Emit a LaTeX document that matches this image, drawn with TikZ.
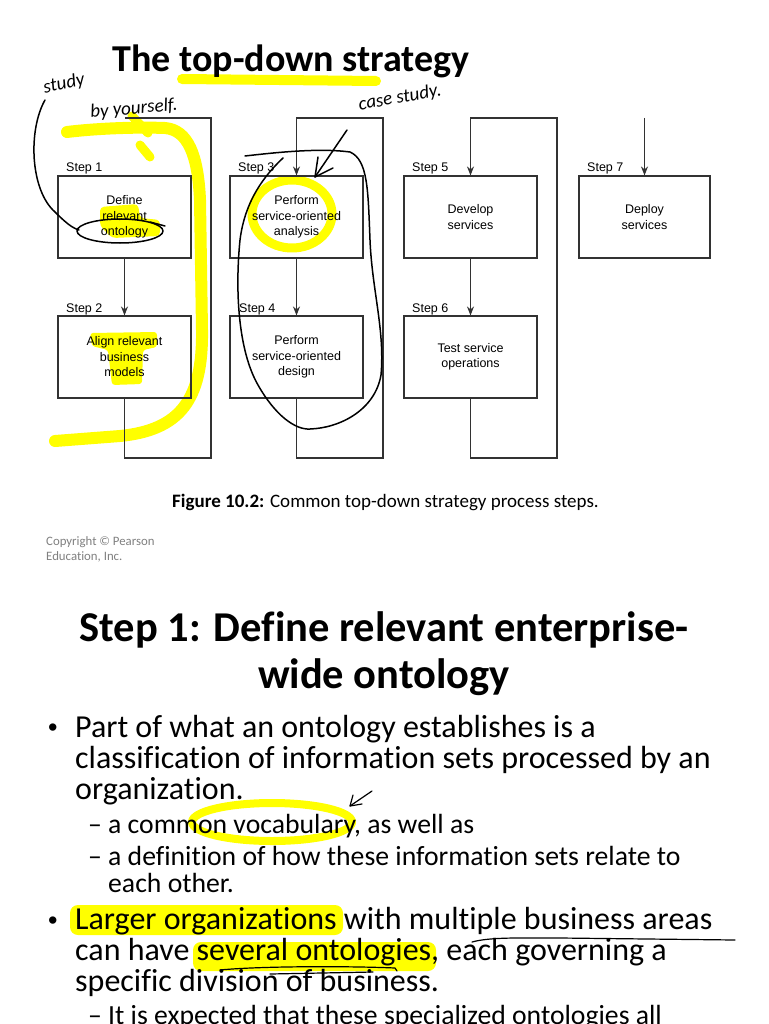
\documentclass[tikz,border=0pt]{standalone}
\usepackage{fontspec}
\setmainfont{Carlito}[Ligatures=NoCommon]
\newfontfamily\arial{Liberation Sans}
\usetikzlibrary{arrows.meta}
\definecolor{hl}{RGB}{255,255,0}
\definecolor{dline}{RGB}{50,50,50}
\definecolor{cgray}{RGB}{128,128,128}
\begin{document}
\begin{tikzpicture}[x=1pt,y=-1pt,
  stepbox/.style={draw=dline, line width=1.1pt, minimum width=133pt, minimum height=82pt, inner sep=0pt, align=center, font=\arial\fontsize{12.5}{15.5}\selectfont},
  steplbl/.style={anchor=base west, inner sep=0pt, font=\arial\fontsize{12.5}{15}\selectfont},
  conn/.style={draw=dline, line width=1.1pt},
  arr/.style={conn, -{Stealth[length=9pt,width=7pt]}},
  hlstroke/.style={draw=hl, line width=12pt, line cap=round, line join=round},
  ink/.style={draw=black, line width=1.5pt, line cap=round, line join=round},
  body/.style={anchor=base west, inner sep=0pt, font=\fontsize{32}{32}\selectfont},
  bul/.style={anchor=base west, inner sep=0pt, font=\arial\fontsize{27}{27}\selectfont},
  subtext/.style={anchor=base west, inner sep=0pt, font=\fontsize{27.7}{28}\selectfont},
  hand/.style={inner sep=0pt, font=\itshape\fontsize{19}{19}\selectfont}
]
\useasboundingbox (0,0) rectangle (768,1024);
\fill[white] (0,0) rectangle (768,1024);

% ---------- highlighter strokes (under everything) ----------
\draw[hlstroke, line width=10pt] (182,79) -- (376,81);
\draw[hlstroke] (67,132) .. controls (100,128) and (140,127) .. (165,128) .. controls (188,130) and (198,155) .. (200,200) -- (202,330) .. controls (203,400) and (180,430) .. (120,436) -- (55,441);
\draw[hlstroke, line width=9pt] (132,116) -- (148,133);
\draw[hlstroke, line width=9pt] (140,145) -- (150,157);
\fill[hl, rounded corners=4pt] (100,207) -- (138,204) -- (140,218) -- (160,220) -- (160,236) -- (112,238) -- (100,226) -- cycle;
\fill[hl, rounded corners=3pt] (90,333) -- (157,332) -- (157,347) -- (143,350) -- (142,384) -- (112,385) -- (108,350) -- (92,346) -- cycle;
\draw[hlstroke, line width=9pt] (292,214) ellipse [x radius=40, y radius=34];
\draw[hlstroke, line width=8pt] (272,822) ellipse [x radius=80, y radius=19];
\fill[hl, rounded corners=8pt] (70,905) rectangle (343,935);
\fill[hl, rounded corners=8pt] (193,942) rectangle (436,971);

% ---------- title ----------
\node[anchor=base, inner sep=0pt, font=\bfseries\fontsize{38}{38}\selectfont] (title) at (291,72) {The top-down strategy};

% ---------- diagram ----------
\node[stepbox] (s1) at (124.5,217) {Define\\relevant\\ontology};
\node[stepbox] (s3) at (296.5,217) {Perform\\service-oriented\\analysis};
\node[stepbox] (s5) at (470.5,217) {Develop\\services};
\node[stepbox, minimum width=131pt] (s7) at (644.5,217) {Deploy\\services};
\node[stepbox] (s2) at (124.5,357) {Align relevant\\business\\models};
\node[stepbox] (s4) at (296.5,357) {Perform\\service-oriented\\design};
\node[stepbox] (s6) at (470.5,357) {Test service\\operations};

\node[steplbl] (l1) at (66,172) {Step 1};
\node[steplbl] (l3) at (238,172) {Step 3};
\node[steplbl] (l5) at (412,172) {Step 5};
\node[steplbl] (l7) at (587,172) {Step 7};
\node[steplbl] (l2) at (66,312) {Step 2};
\node[steplbl] (l4) at (239,312) {Step 4};
\node[steplbl] (l6) at (412,312) {Step 6};

\coordinate (g1b) at (211,458);
\coordinate (g1t) at (211,118);
\coordinate (g1e) at (125,118);
\coordinate (g2b) at (383,458);
\coordinate (g2t) at (383,118);
\coordinate (g3b) at (557,458);
\coordinate (g3t) at (557,118);
\coordinate (g4t) at (644.5,118);

\draw[arr] (s1) -- (s2);
\draw[arr] (s3) -- (s4);
\draw[arr] (s5) -- (s6);
\draw[conn] (s2.south) |- (g1b) -- (g1t) -- (g1e);
\draw[arr] (s4.south) |- (g2b) -- (g2t) -| (s3.north);
\draw[arr] (s6.south) |- (g3b) -- (g3t) -| (s5.north);
\draw[arr] (g4t) -- (s7.north);

% ---------- caption & copyright ----------
\node[anchor=base, inner sep=0pt, font=\fontsize{19}{19}\selectfont] (cap) at (385.5,507) {\textbf{Figure 10.2:} Common top-down strategy process steps.};
\node[anchor=base west, inner sep=0pt, text=cgray, font=\fontsize{12.8}{12.8}\selectfont] (cp1) at (46,545) {Copyright © Pearson};
\node[anchor=base west, inner sep=0pt, text=cgray, font=\fontsize{12.8}{12.8}\selectfont] (cp2) at (46,560) {Education, Inc.};

% ---------- second slide ----------
\node[anchor=base, inner sep=0pt, font=\bfseries\fontsize{42.5}{42.5}\selectfont] (h1) at (384,641) {Step 1: Define relevant enterprise-};
\node[anchor=base, inner sep=0pt, font=\bfseries\fontsize{42.5}{42.5}\selectfont] (h2) at (384,688) {wide ontology};

\node[bul] (b1) at (48,736) {•};
\node[body] (t1) at (75,737) {Part of what an ontology establishes is a};
\node[body] (t2) at (75,768) {classification of information sets processed by an};
\node[body] (t3) at (75,799) {organization.};
\node[subtext] (d1) at (88,833) {–};
\node[subtext] (u1) at (108,833) {a common vocabulary, as well as};
\node[subtext] (d2) at (88,865) {–};
\node[subtext] (u2) at (108,865) {a definition of how these information sets relate to};
\node[subtext] (u3) at (108,892) {each other.};
\node[bul] (b2) at (48,929) {•};
\node[body] (t4) at (75,929) {Larger organizations with multiple business areas};
\node[body] (t5) at (75,960) {can have several ontologies, each governing a};
\node[body] (t6) at (75,991) {specific division of business.};
\node[subtext] (d3) at (88,1024) {–};
\node[subtext] (u4) at (108,1024) {It is expected that these specialized ontologies all};

% ---------- ink annotations ----------
\node[hand, rotate=12] (hw1) at (64,84) {study};
\node[hand, rotate=5] (hw2) at (134,109) {by yourself.};
\node[hand, rotate=10] (hw3) at (400,98) {case study.};

\draw[ink] (45,100) .. controls (28,130) and (30,190) .. (55,212) .. controls (65,222) and (72,228) .. (79,230);
\draw[ink] (120,231) ellipse [x radius=43, y radius=12];
\draw[ink] (150,222) -- (165,226);

\draw[ink] (283,158) .. controls (265,175) and (245,200) .. (240,240) .. controls (235,290) and (238,350) .. (258,385) .. controls (275,415) and (295,430) .. (310,429) .. controls (340,428) and (375,410) .. (381,375) .. controls (385,330) and (372,290) .. (370,240) .. controls (368,190) and (368,160) .. (350,152) .. controls (320,148) and (280,152) .. (245,156);

\draw[ink] (347,130) -- (315,177);
\draw[ink] (318,157) -- (315,177) -- (333,168);

\draw[ink, line width=1.2pt] (372,791) -- (350,806);
\draw[ink, line width=1.2pt] (353,795) -- (350,806) -- (362,804);

\draw[ink, line width=1.2pt] (472,942) .. controls (490,937) and (520,938) .. (560,938) -- (735,940);
\draw[ink, line width=1.2pt] (220,970) .. controls (260,966) and (350,966) .. (395,968) -- (397,971);
\draw[ink, line width=1.2pt] (270,974) -- (373,972);
\end{tikzpicture}
\end{document}
